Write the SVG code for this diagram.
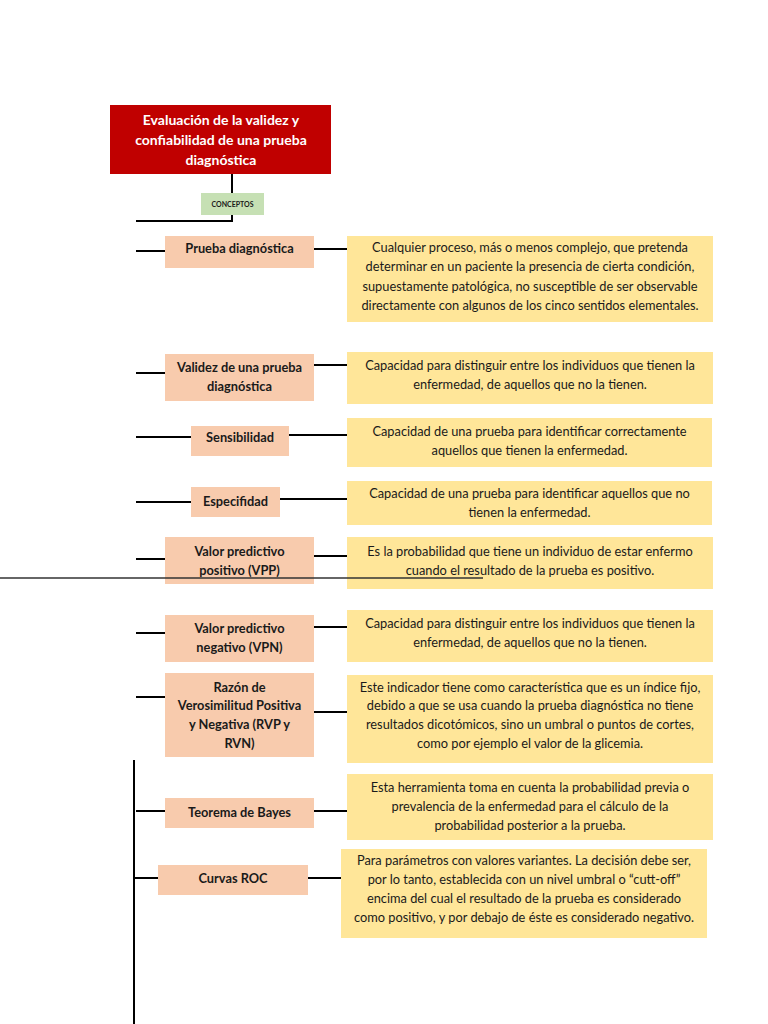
<svg xmlns="http://www.w3.org/2000/svg" width="768" height="1024" viewBox="0 0 768 1024">
<style>
.t{font-family:Lato,"Open Sans","Liberation Sans",sans-serif;fill:#1a1a1a;text-anchor:middle}
.n{font-size:12.8px;font-weight:bold}
.d{font-size:12.8px}
.c{fill:#F8CBAD}
.y{fill:#FFE699}
.l{stroke:#000;stroke-width:2;fill:none}
</style>
<rect width="768" height="1024" fill="#fff"/>
<g id="connectors">
<path class="l" d="M232 174V193M232 215V221H136"/>
<path class="l" d="M136 251H165M314 249H347"/>
<path class="l" d="M136 373H165M314 365H347"/>
<path class="l" d="M136 437H191M289 435H347"/>
<path class="l" d="M136 502H191M280 499H347"/>
<path class="l" d="M136 559H165M314 556H347"/>
<path class="l" d="M136 633H165M314 627H347"/>
<path class="l" d="M136 697H165M314 712H347"/>
<path class="l" d="M136 811H165M314 811H347"/>
<path class="l" d="M134 760V1024M134 878H158M308 878H341"/>
</g>
<g id="title">
<rect x="110" y="105" width="221" height="69" fill="#C00000"/>
<text class="t n" style="fill:#fff;font-size:14px" x="221" y="125">Evaluación de la validez y</text>
<text class="t n" style="fill:#fff;font-size:14px" x="221" y="145">confiabilidad de una prueba</text>
<text class="t n" style="fill:#fff;font-size:14px" x="221" y="165">diagnóstica</text>
</g>
<g id="conceptos">
<rect x="201" y="193" width="63" height="22" fill="#C6E0B4"/>
<text class="t" style="font-size:7px;font-weight:bold" x="232.5" y="206.5">CONCEPTOS</text>
</g>
<g id="n1">
<rect class="c" x="165" y="236" width="149" height="32"/>
<text class="t n" x="239.5" y="253">Prueba diagnóstica</text>
</g>
<g id="d1">
<rect class="y" x="347" y="236" width="366" height="86"/>
<text class="t d" x="530" y="252">Cualquier proceso, más o menos complejo, que pretenda</text>
<text class="t d" x="530" y="271">determinar en un paciente la presencia de cierta condición,</text>
<text class="t d" x="530" y="291">supuestamente patológica, no susceptible de ser observable</text>
<text class="t d" x="530" y="310">directamente con algunos de los cinco sentidos elementales.</text>
</g>
<g id="n2">
<rect class="c" x="165" y="354" width="149" height="47"/>
<text class="t n" x="239.5" y="372">Validez de una prueba</text>
<text class="t n" x="239.5" y="391">diagnóstica</text>
</g>
<g id="d2">
<rect class="y" x="347" y="352" width="366" height="52"/>
<text class="t d" x="530" y="370">Capacidad para distinguir entre los individuos que tienen la</text>
<text class="t d" x="530" y="389">enfermedad, de aquellos que no la tienen.</text>
</g>
<g id="n3">
<rect class="c" x="191" y="426" width="98" height="30"/>
<text class="t n" x="240" y="442">Sensibilidad</text>
</g>
<g id="d3">
<rect class="y" x="347" y="418" width="365" height="49"/>
<text class="t d" x="529.5" y="436">Capacidad de una prueba para identificar correctamente</text>
<text class="t d" x="529.5" y="455">aquellos que tienen la enfermedad.</text>
</g>
<g id="n4">
<rect class="c" x="191" y="487" width="89" height="30"/>
<text class="t n" x="235.5" y="506">Especifidad</text>
</g>
<g id="d4">
<rect class="y" x="347" y="481" width="365" height="44"/>
<text class="t d" x="529.5" y="498">Capacidad de una prueba para identificar aquellos que no</text>
<text class="t d" x="529.5" y="517">tienen la enfermedad.</text>
</g>
<g id="n5">
<rect class="c" x="165" y="537" width="149" height="47"/>
<text class="t n" x="239.5" y="556">Valor predictivo</text>
<text class="t n" x="239.5" y="575">positivo (VPP)</text>
</g>
<g id="d5">
<rect class="y" x="347" y="537" width="366" height="52"/>
<text class="t d" x="530" y="556">Es la probabilidad que tiene un individuo de estar enfermo</text>
<text class="t d" x="530" y="575">cuando el resultado de la prueba es positivo.</text>
</g>
<line x1="0" y1="578" x2="483" y2="578" stroke="#333" stroke-width="1.5"/>
<g id="n6">
<rect class="c" x="165" y="615" width="149" height="47"/>
<text class="t n" x="239.5" y="633">Valor predictivo</text>
<text class="t n" x="239.5" y="652">negativo (VPN)</text>
</g>
<g id="d6">
<rect class="y" x="347" y="610" width="366" height="52"/>
<text class="t d" x="530" y="628">Capacidad para distinguir entre los individuos que tienen la</text>
<text class="t d" x="530" y="647">enfermedad, de aquellos que no la tienen.</text>
</g>
<g id="n7">
<rect class="c" x="165" y="673" width="149" height="84"/>
<text class="t n" x="239.5" y="692">Razón de</text>
<text class="t n" x="239.5" y="710">Verosimilitud Positiva</text>
<text class="t n" x="239.5" y="729">y Negativa (RVP y</text>
<text class="t n" x="239.5" y="748">RVN)</text>
</g>
<g id="d7">
<rect class="y" x="347" y="675" width="366" height="88"/>
<text class="t d" x="530" y="692">Este indicador tiene como característica que es un índice fijo,</text>
<text class="t d" x="530" y="710">debido a que se usa cuando la prueba diagnóstica no tiene</text>
<text class="t d" x="530" y="729">resultados dicotómicos, sino un umbral o puntos de cortes,</text>
<text class="t d" x="530" y="748">como por ejemplo el valor de la glicemia.</text>
</g>
<g id="n8">
<rect class="c" x="165" y="798" width="149" height="30"/>
<text class="t n" x="239.5" y="817">Teorema de Bayes</text>
</g>
<g id="d8">
<rect class="y" x="347" y="774" width="366" height="66"/>
<text class="t d" x="530" y="792">Esta herramienta toma en cuenta la probabilidad previa o</text>
<text class="t d" x="530" y="811">prevalencia de la enfermedad para el cálculo de la</text>
<text class="t d" x="530" y="830">probabilidad posterior a la prueba.</text>
</g>
<g id="n9">
<rect class="c" x="158" y="865" width="150" height="30"/>
<text class="t n" x="233" y="883">Curvas ROC</text>
</g>
<g id="d9">
<rect class="y" x="341" y="849" width="366" height="89"/>
<text class="t d" x="524" y="865">Para parámetros con valores variantes. La decisión debe ser,</text>
<text class="t d" x="524" y="884">por lo tanto, establecida con un nivel umbral o “cutt-off”</text>
<text class="t d" x="524" y="903">encima del cual el resultado de la prueba es considerado</text>
<text class="t d" x="524" y="922">como positivo, y por debajo de éste es considerado negativo.</text>
</g>
</svg>
